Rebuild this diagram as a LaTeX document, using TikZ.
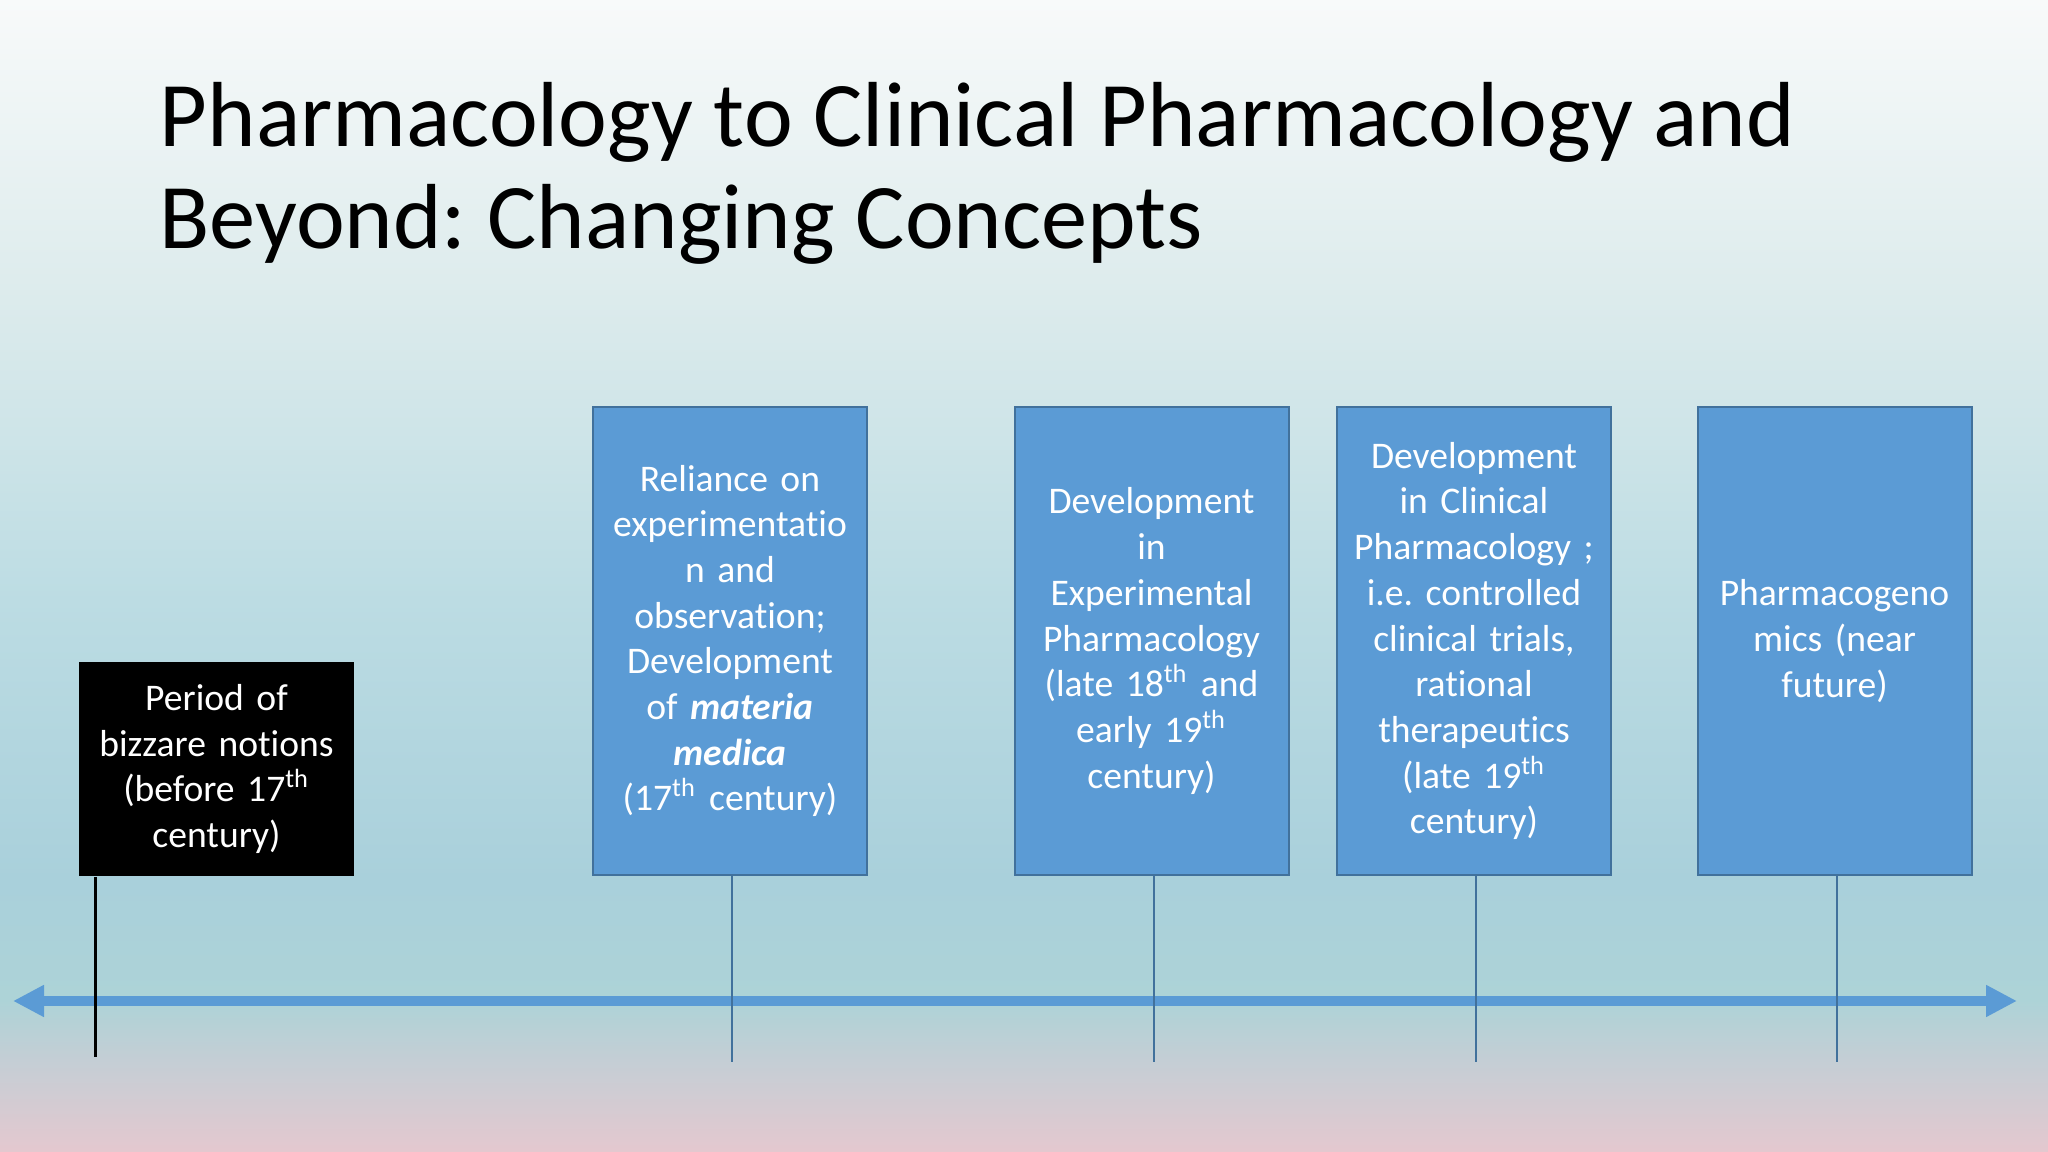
\documentclass[tikz,border=0pt]{standalone}
\usepackage{fontspec}
\setmainfont{Carlito}[Ligatures=NoCommon]
\frenchspacing
\usetikzlibrary{arrows.meta}

\definecolor{boxblue}{HTML}{5B9BD5}
\definecolor{boxedge}{HTML}{41719C}
\definecolor{bgA}{HTML}{F8FAFA}
\definecolor{bgB}{HTML}{DCEBEC}
\definecolor{bgC}{HTML}{BCDCE3}
\definecolor{bgD}{HTML}{A9D0DB}
\definecolor{bgE}{HTML}{ADD3D7}
\definecolor{bgF}{HTML}{C4CED5}
\definecolor{bgG}{HTML}{E4C8CF}

\tikzset{
  headline/.style={inner sep=0pt, align=left, text=black, font=\fontsize{26.3}{29}\selectfont},
  era/.style={draw=boxedge, line width=0.02cm, fill=boxblue, text=white, text width=2.74cm,
    inner xsep=0pt, inner ysep=0pt, minimum height=4.68cm, align=center,
    font=\fontsize{10.7}{13}\selectfont},
  oldera/.style={era, draw=none, fill=black, minimum height=2.14cm},
  stem/.style={draw=boxedge, line width=0.02cm},
  oldstem/.style={draw=black, line width=0.025cm},
  timeline/.style={draw=boxblue, line width=0.1cm, {Triangle[length=3.1mm,width=3mm]}-{Triangle[length=3.1mm,width=3mm]}}
}

\begin{document}
\begin{tikzpicture}
      \useasboundingbox (0,0) rectangle (20.48,11.52);
      \shade[top color=bgA, bottom color=bgB] (0,8.52) rectangle (20.48,11.52);
      \shade[top color=bgB, bottom color=bgC] (0,5.52) rectangle (20.48,8.52);
      \shade[top color=bgC, bottom color=bgD] (0,2.72) rectangle (20.48,5.52);
      \shade[top color=bgD, bottom color=bgE] (0,1.52) rectangle (20.48,2.72);
      \shade[top color=bgE, bottom color=bgF] (0,0.92) rectangle (20.48,1.52);
      \shade[top color=bgF, bottom color=bgG] (0,0) rectangle (20.48,0.92);

      \node[headline, anchor=north west] (title) at (1.59,10.70) {Pharmacology to Clinical Pharmacology and\\Beyond: Changing Concepts};

      \node[oldera] (b1) at (2.165,3.83) {Period of\\bizzare notions\\(before 17\textsuperscript{th}\\century)};
      \node[era] (b2) at (7.30,5.11) {Reliance on\\experimentatio\\n and\\observation;\\Development\\of \textbf{\textit{materia}}\\\textbf{\textit{medica}}\\(17\textsuperscript{th} century)};
      \node[era] (b3) at (11.515,5.11) {Development\\in\\Experimental\\Pharmacology\\(late 18\textsuperscript{th} and\\early 19\textsuperscript{th}\\century)};
      \node[era] (b4) at (14.74,5.11) {Development\\in Clinical\\Pharmacology ;\\i.e. controlled\\clinical trials,\\rational\\therapeutics\\(late 19\textsuperscript{th}\\century)};
      \node[era] (b5) at (18.345,5.11) {Pharmacogeno\\mics (near\\future)};

      \coordinate (tstart) at (0.13,1.51);
      \coordinate (tend) at (20.17,1.51);
      \coordinate (foot) at (0,0.90);
      \draw[timeline] (tstart) -- (tend);

      \coordinate (p1) at ([xshift=0.17cm]b1.south west);
      \draw[oldstem] (p1) -- (p1 |- 0,0.95);
      \foreach \b in {b2,b3,b4,b5}
        \draw[stem] ([xshift=0.02cm]\b.south) -- ([xshift=0.02cm]\b.south |- foot);
\end{tikzpicture}
\end{document}
